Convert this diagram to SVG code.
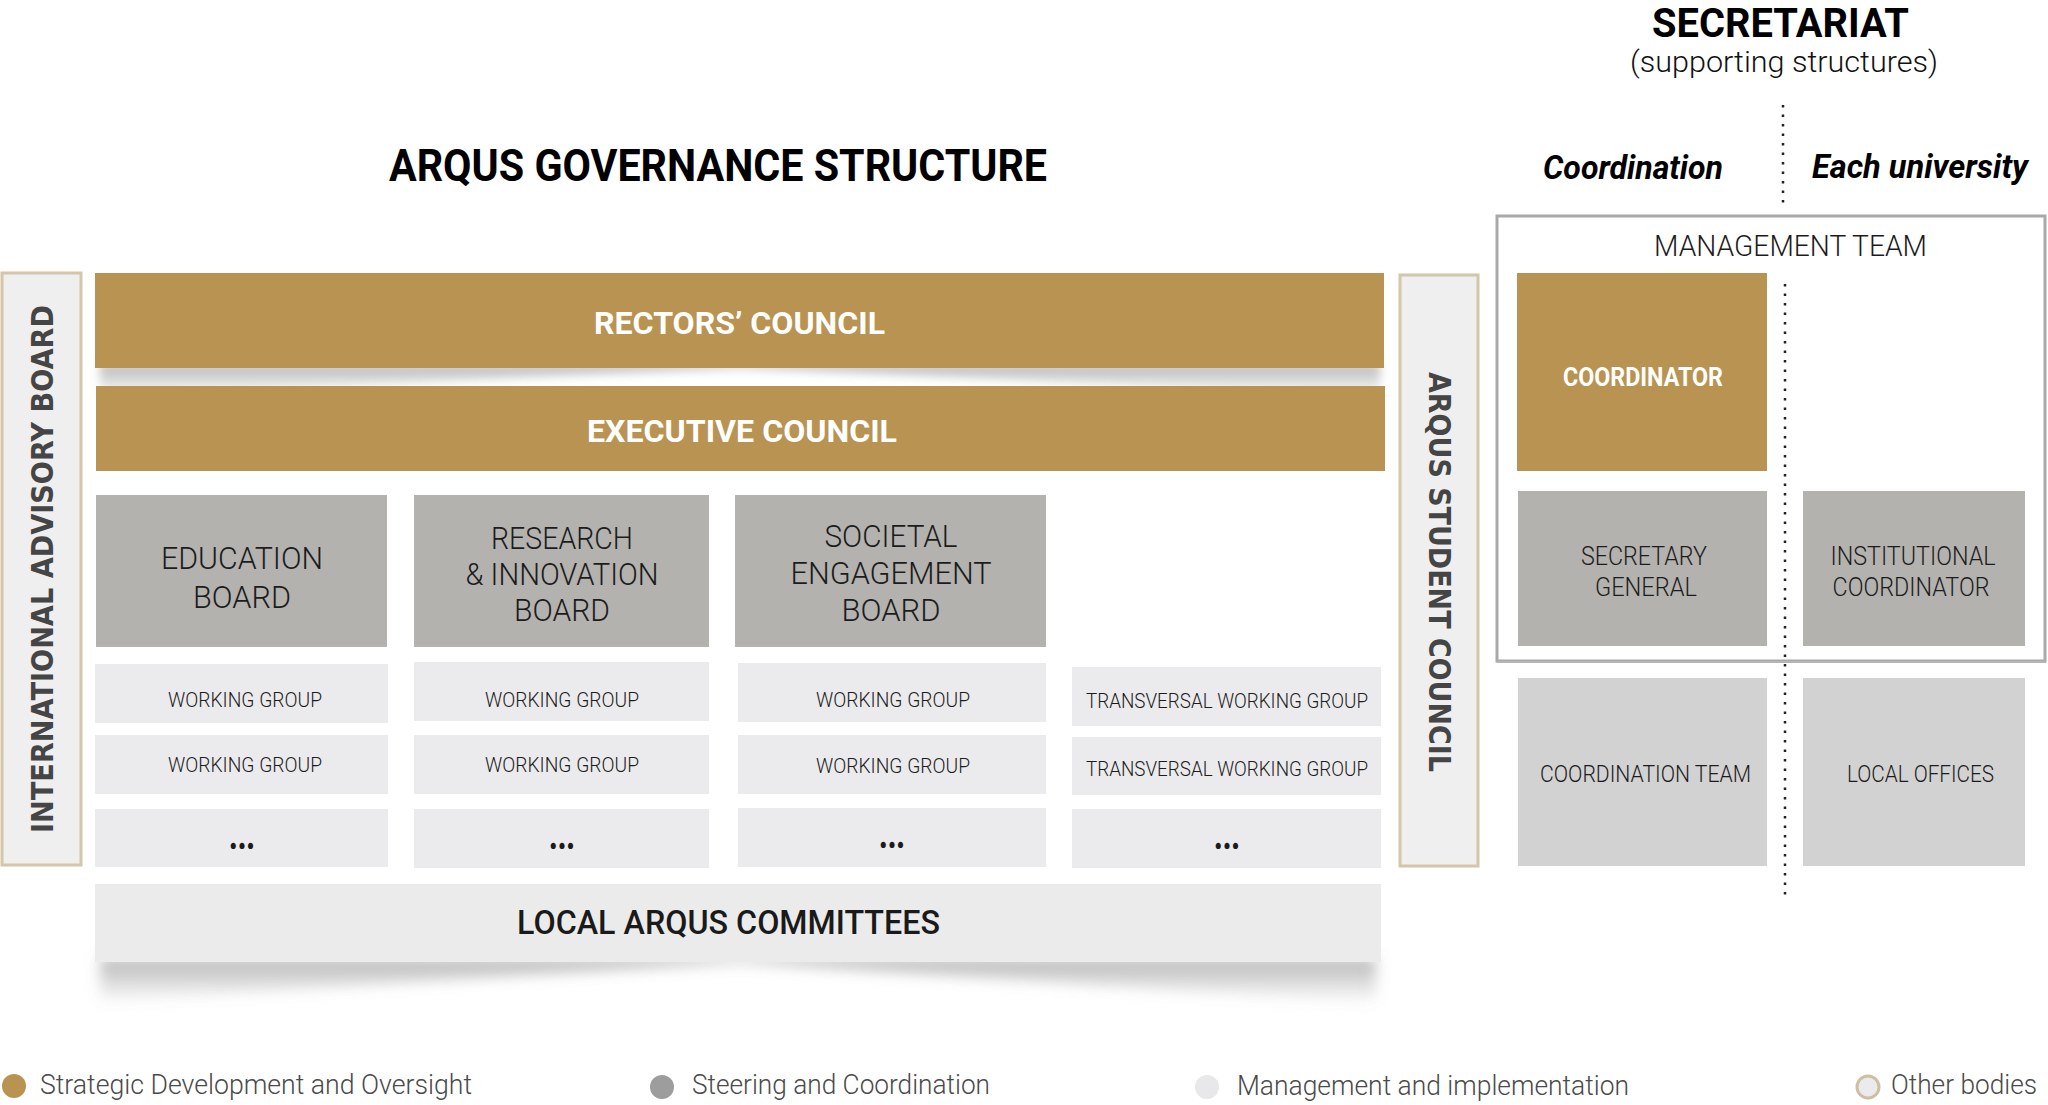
<svg xmlns="http://www.w3.org/2000/svg" width="2048" height="1105" viewBox="0 0 2048 1105">
<style>
text{font-family:Roboto,"Open Sans","Liberation Sans",sans-serif;}
.gold{fill:#b89351;}
.board{fill:#b3b2ae;}
.wg{fill:#ebebed;}
.lt{fill:#d2d2d2;}
.side{fill:#efeff0;stroke:#d4c6a8;stroke-width:3;}
.t-white-b{fill:#ffffff;font-weight:700;text-anchor:middle;}
.t-dark-l{fill:#1c1c1c;font-weight:300;text-anchor:middle;}
.t-wg{fill:#1c1c1c;font-weight:300;font-size:21px;text-anchor:middle;}
.dots{fill:#1c1c1c;font-weight:900;font-size:36px;text-anchor:middle;}
.vert{font-family:"DejaVu Sans",Verdana,sans-serif;font-weight:700;font-size:31px;fill:#454545;text-anchor:middle;}
.leg{fill:#4a4a4a;font-weight:300;font-size:28px;}
.div{stroke:#222;stroke-width:2.5;stroke-dasharray:2.5 7;fill:none;}
</style>
<defs>
<filter id="blur" x="-10%" y="-100%" width="120%" height="300%"><feGaussianBlur stdDeviation="7"/></filter>
<filter id="blur2" x="-10%" y="-100%" width="120%" height="300%"><feGaussianBlur stdDeviation="5"/></filter>
<linearGradient id="shv" x1="0" y1="0" x2="0" y2="1">
<stop offset="0" stop-color="#7a7a7a" stop-opacity="0.55"/>
<stop offset="1" stop-color="#7a7a7a" stop-opacity="0"/>
</linearGradient>
</defs>
<rect width="2048" height="1105" fill="#ffffff"/>

<g id="titles">
<text x="389" y="181" font-size="44" font-weight="700" fill="#000" textLength="658" lengthAdjust="spacingAndGlyphs">ARQUS GOVERNANCE STRUCTURE</text>
<text x="1652" y="37" font-size="40" font-weight="700" fill="#000" textLength="257" lengthAdjust="spacingAndGlyphs">SECRETARIAT</text>
<text x="1630" y="72" font-size="30" font-weight="300" fill="#111" textLength="308" lengthAdjust="spacingAndGlyphs">(supporting structures)</text>
<text x="1543" y="179" font-size="33" font-weight="700" font-style="italic" fill="#000" textLength="180" lengthAdjust="spacingAndGlyphs">Coordination</text>
<text x="1812" y="178" font-size="33" font-weight="700" font-style="italic" fill="#000" textLength="216" lengthAdjust="spacingAndGlyphs">Each university</text>
</g>

<g id="shadows">
<path d="M100,364 L1380,364 L1380,396 L740,368 L100,396 Z" fill="url(#shv)" filter="url(#blur2)"/>
<path d="M100,958 L1376,958 L1376,1004 L740,962 L100,1002 Z" fill="url(#shv)" filter="url(#blur)"/>
</g>

<g id="international-advisory-board">
<rect class="side" x="2" y="273" width="79" height="592"/>
<text class="vert" transform="translate(53,569) rotate(-90)" textLength="528" lengthAdjust="spacingAndGlyphs">INTERNATIONAL ADVISORY BOARD</text>
</g>

<g id="rectors-council">
<rect class="gold" x="95" y="273" width="1289" height="95"/>
<text class="t-white-b" x="739.5" y="334" font-size="31" textLength="291" lengthAdjust="spacingAndGlyphs">RECTORS’ COUNCIL</text>
</g>

<g id="executive-council">
<rect class="gold" x="96" y="386" width="1289" height="85"/>
<text class="t-white-b" x="742" y="442" font-size="31" textLength="310" lengthAdjust="spacingAndGlyphs">EXECUTIVE COUNCIL</text>
</g>

<g id="education-board">
<rect class="board" x="96" y="495" width="291" height="152"/>
<text class="t-dark-l" x="242" y="569" font-size="32" textLength="162" lengthAdjust="spacingAndGlyphs">EDUCATION</text>
<text class="t-dark-l" x="242" y="608" font-size="32" textLength="98" lengthAdjust="spacingAndGlyphs">BOARD</text>
</g>

<g id="research-board">
<rect class="board" x="414" y="495" width="295" height="152"/>
<text class="t-dark-l" x="562" y="549" font-size="32" textLength="142" lengthAdjust="spacingAndGlyphs">RESEARCH</text>
<text class="t-dark-l" x="562" y="585" font-size="32" textLength="193" lengthAdjust="spacingAndGlyphs">&amp; INNOVATION</text>
<text class="t-dark-l" x="562" y="621" font-size="32" textLength="96" lengthAdjust="spacingAndGlyphs">BOARD</text>
</g>

<g id="societal-board">
<rect class="board" x="735" y="495" width="311" height="152"/>
<text class="t-dark-l" x="891" y="547" font-size="32" textLength="133" lengthAdjust="spacingAndGlyphs">SOCIETAL</text>
<text class="t-dark-l" x="891" y="584" font-size="32" textLength="201" lengthAdjust="spacingAndGlyphs">ENGAGEMENT</text>
<text class="t-dark-l" x="891" y="621" font-size="32" textLength="99" lengthAdjust="spacingAndGlyphs">BOARD</text>
</g>

<g id="edu-wg-1"><rect class="wg" x="95" y="664" width="293" height="59"/><text class="t-wg" x="245" y="707" textLength="154" lengthAdjust="spacingAndGlyphs">WORKING GROUP</text></g>
<g id="edu-wg-2"><rect class="wg" x="95" y="735" width="293" height="59"/><text class="t-wg" x="245" y="772" textLength="154" lengthAdjust="spacingAndGlyphs">WORKING GROUP</text></g>
<g id="edu-wg-3"><rect class="wg" x="95" y="809" width="293" height="58"/><text class="dots" x="242" y="849" textLength="26" lengthAdjust="spacingAndGlyphs">...</text></g>

<g id="res-wg-1"><rect class="wg" x="414" y="662" width="295" height="59"/><text class="t-wg" x="562" y="707" textLength="154" lengthAdjust="spacingAndGlyphs">WORKING GROUP</text></g>
<g id="res-wg-2"><rect class="wg" x="414" y="735" width="295" height="59"/><text class="t-wg" x="562" y="772" textLength="154" lengthAdjust="spacingAndGlyphs">WORKING GROUP</text></g>
<g id="res-wg-3"><rect class="wg" x="414" y="809" width="295" height="59"/><text class="dots" x="562" y="849" textLength="26" lengthAdjust="spacingAndGlyphs">...</text></g>

<g id="soc-wg-1"><rect class="wg" x="738" y="663" width="308" height="59"/><text class="t-wg" x="893" y="707" textLength="154" lengthAdjust="spacingAndGlyphs">WORKING GROUP</text></g>
<g id="soc-wg-2"><rect class="wg" x="738" y="735" width="308" height="59"/><text class="t-wg" x="893" y="773" textLength="154" lengthAdjust="spacingAndGlyphs">WORKING GROUP</text></g>
<g id="soc-wg-3"><rect class="wg" x="738" y="808" width="308" height="59"/><text class="dots" x="892" y="848" textLength="26" lengthAdjust="spacingAndGlyphs">...</text></g>

<g id="trans-wg-1"><rect class="wg" x="1072" y="667" width="309" height="59"/><text class="t-wg" x="1227" y="708" textLength="282" lengthAdjust="spacingAndGlyphs">TRANSVERSAL WORKING GROUP</text></g>
<g id="trans-wg-2"><rect class="wg" x="1072" y="737" width="309" height="58"/><text class="t-wg" x="1227" y="776" textLength="282" lengthAdjust="spacingAndGlyphs">TRANSVERSAL WORKING GROUP</text></g>
<g id="trans-wg-3"><rect class="wg" x="1072" y="809" width="309" height="59"/><text class="dots" x="1227" y="849" textLength="26" lengthAdjust="spacingAndGlyphs">...</text></g>

<g id="local-arqus-committees">
<rect fill="#ebebeb" x="95" y="884" width="1286" height="78"/>
<text x="728.5" y="934" font-size="34" font-weight="500" fill="#1a1a1a" text-anchor="middle" textLength="423" lengthAdjust="spacingAndGlyphs">LOCAL ARQUS COMMITTEES</text>
</g>

<g id="arqus-student-council">
<rect class="side" x="1400" y="275" width="78" height="591"/>
<text class="vert" transform="translate(1429,572) rotate(90)" textLength="400" lengthAdjust="spacingAndGlyphs">ARQUS STUDENT COUNCIL</text>
</g>

<g id="management-team">
<rect x="1497" y="216" width="548" height="445" fill="#ffffff" stroke="#a9a9a9" stroke-width="3"/>
<line x1="1497" y1="662" x2="2046" y2="662" stroke="#b5b5b5" stroke-width="2"/>
<text class="t-dark-l" x="1790.5" y="256" font-size="29" textLength="273" lengthAdjust="spacingAndGlyphs">MANAGEMENT TEAM</text>
</g>

<g id="coordinator">
<rect class="gold" x="1517" y="273" width="250" height="198"/>
<text class="t-white-b" x="1643" y="386" font-size="25" textLength="160" lengthAdjust="spacingAndGlyphs">COORDINATOR</text>
</g>

<g id="secretary-general">
<rect class="board" x="1518" y="491" width="249" height="155"/>
<text class="t-dark-l" x="1644" y="565" font-size="25" textLength="126" lengthAdjust="spacingAndGlyphs">SECRETARY</text>
<text class="t-dark-l" x="1646" y="596" font-size="25" textLength="102" lengthAdjust="spacingAndGlyphs">GENERAL</text>
</g>

<g id="institutional-coordinator">
<rect class="board" x="1803" y="491" width="222" height="155"/>
<text class="t-dark-l" x="1913" y="565" font-size="25" textLength="165" lengthAdjust="spacingAndGlyphs">INSTITUTIONAL</text>
<text class="t-dark-l" x="1911" y="596" font-size="25" textLength="157" lengthAdjust="spacingAndGlyphs">COORDINATOR</text>
</g>

<g id="coordination-team">
<rect class="lt" x="1518" y="678" width="249" height="188"/>
<text class="t-dark-l" x="1645.5" y="782" font-size="24" textLength="211" lengthAdjust="spacingAndGlyphs">COORDINATION TEAM</text>
</g>

<g id="local-offices">
<rect class="lt" x="1803" y="678" width="222" height="188"/>
<text class="t-dark-l" x="1920.5" y="782" font-size="24" textLength="147" lengthAdjust="spacingAndGlyphs">LOCAL OFFICES</text>
</g>

<g id="dividers">
<line class="div" x1="1783" y1="105" x2="1783" y2="208"/>
<line class="div" x1="1785" y1="284" x2="1785" y2="897"/>
</g>

<g id="legend">
<circle cx="14" cy="1086" r="12" fill="#b89351"/>
<text class="leg" x="40" y="1094" textLength="432" lengthAdjust="spacingAndGlyphs">Strategic Development and Oversight</text>
<circle cx="662" cy="1087" r="12" fill="#9d9d9d"/>
<text class="leg" x="692" y="1094" textLength="298" lengthAdjust="spacingAndGlyphs">Steering and Coordination</text>
<circle cx="1207" cy="1087" r="12" fill="#e8e8ea"/>
<text class="leg" x="1237" y="1095" textLength="392" lengthAdjust="spacingAndGlyphs">Management and implementation</text>
<circle cx="1868" cy="1087" r="11" fill="#ebebed" stroke="#cdbfa3" stroke-width="3"/>
<text class="leg" x="1891" y="1094" textLength="146" lengthAdjust="spacingAndGlyphs">Other bodies</text>
</g>
</svg>
